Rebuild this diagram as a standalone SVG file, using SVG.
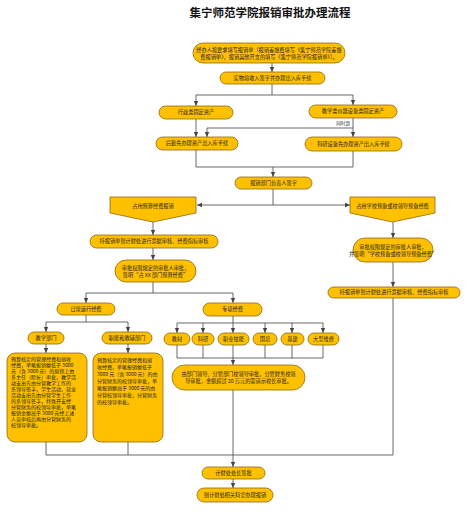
<svg xmlns="http://www.w3.org/2000/svg" width="474" height="514" viewBox="0 0 474 514">
<style>
.n{fill:#FFC000;stroke:#8C6A10;stroke-width:0.8}
.t{font-family:"Noto Sans CJK SC","Liberation Sans",sans-serif;font-size:5.2px;fill:#222;text-anchor:middle}
.tl{font-family:"Noto Sans CJK SC","Liberation Sans",sans-serif;font-size:5px;fill:#222}
.c{fill:none;stroke:#444;stroke-width:0.8}
.title{font-family:"Noto Sans CJK SC",serif;font-size:11.5px;font-weight:bold;fill:#111;text-anchor:middle}
</style>
<defs>
<marker id="a" markerWidth="6" markerHeight="6" refX="5" refY="3" orient="auto" markerUnits="userSpaceOnUse">
<path d="M0,0.8 L5,3 L0,5.2 Z" fill="#444"/>
</marker>
</defs>
<rect width="474" height="514" fill="#fff"/>
<text class="title" x="270" y="17">集宁师范学院报销审批办理流程</text>

<g id="connectors">
<path class="c" d="M272,63 V72" marker-end="url(#a)"/>
<path class="c" d="M272,84 V95 M196,95 H353"/>
<path class="c" d="M196,95 V106" marker-end="url(#a)"/>
<path class="c" d="M353,95 V105" marker-end="url(#a)"/>
<path class="c" d="M353,118 V137" marker-end="url(#a)"/>
<path class="c" d="M353,128 H207 V137" marker-end="url(#a)"/>
<path class="c" d="M196,119 V137" marker-end="url(#a)"/>
<path class="c" d="M196,150 V167 H353 V151"/>
<path class="c" d="M273,167 V177" marker-end="url(#a)"/>
<path class="c" d="M273,189 V205"/>
<path class="c" d="M273,205 H197" marker-end="url(#a)"/>
<path class="c" d="M273,205 H350" marker-end="url(#a)"/>
<path class="c" d="M153,222 V235" marker-end="url(#a)"/>
<path class="c" d="M153,248 V260" marker-end="url(#a)"/>
<path class="c" d="M153,282 V293 M86,293 H233"/>
<path class="c" d="M86,293 V303" marker-end="url(#a)"/>
<path class="c" d="M233,293 V303" marker-end="url(#a)"/>
<path class="c" d="M86,315 V322 M46,322 H128"/>
<path class="c" d="M46,322 V332" marker-end="url(#a)"/>
<path class="c" d="M128,322 V332" marker-end="url(#a)"/>
<path class="c" d="M46,344 V353" marker-end="url(#a)"/>
<path class="c" d="M128,344 V353" marker-end="url(#a)"/>
<path class="c" d="M233,316 V323 M177,323 H323"/>
<path class="c" d="M177,323 V333" marker-end="url(#a)"/>
<path class="c" d="M203,323 V333" marker-end="url(#a)"/>
<path class="c" d="M233,323 V333" marker-end="url(#a)"/>
<path class="c" d="M265,323 V333" marker-end="url(#a)"/>
<path class="c" d="M292,323 V333" marker-end="url(#a)"/>
<path class="c" d="M323,323 V333" marker-end="url(#a)"/>
<path class="c" d="M177,345 V358 M203,345 V358 M233,345 V358 M265,345 V358 M292,345 V358 M323,345 V358 M177,358 H323"/>
<path class="c" d="M233,358 V365" marker-end="url(#a)"/>
<path class="c" d="M393,222 V238" marker-end="url(#a)"/>
<path class="c" d="M393,262 V287" marker-end="url(#a)"/>
<path class="c" d="M393,298 V455 H46 V442 M128,442 V455 M233,390 V455"/>
<path class="c" d="M233,455 V467" marker-end="url(#a)"/>
<path class="c" d="M233,479 V488" marker-end="url(#a)"/>
<text x="350" y="125" font-family="Noto Sans CJK SC, sans-serif" font-size="4.6" fill="#333" text-anchor="end">同时到</text>
</g>

<g id="n1"><rect class="n" x="193" y="43" width="152" height="20" rx="10"/>
<text class="t" x="269" y="51.5">经办人按要求填写报销单（报销差旅费填写《集宁师范学院差旅</text>
<text class="t" x="269" y="58.5">费报销单》，报销其他开支的填写《集宁师范学院报销单》）。</text></g>
<g id="n2"><rect class="n" x="220" y="72" width="105" height="12" rx="6"/>
<text class="t" x="272.5" y="79.8">实物验收入签字并办理出入库手续</text></g>
<g id="n3"><rect class="n" x="159" y="106" width="74" height="13" rx="6.5"/>
<text class="t" x="196" y="114.3">行政类固定资产</text></g>
<g id="n4"><rect class="n" x="309" y="105" width="88" height="13" rx="6.5"/>
<text class="t" x="353" y="113.3">教学类仪器设备类固定资产</text></g>
<g id="n5"><rect class="n" x="156" y="137" width="82" height="13" rx="6.5"/>
<text class="t" x="197" y="145.3">后勤先办理资产出入库手续</text></g>
<g id="n6"><rect class="n" x="305" y="137" width="97" height="14" rx="7"/>
<text class="t" x="353.5" y="145.8">科研设备先办理资产出入库手续</text></g>
<g id="n7"><rect class="n" x="235" y="177" width="77" height="12" rx="6"/>
<text class="t" x="273.5" y="184.8">报销部门负责人签字</text></g>
<g id="n8"><path class="n" d="M110,197 H196 V213 L153,222 L110,213 Z"/>
<text class="t" x="153" y="208">占用预算经费报销</text></g>
<g id="n9"><path class="n" d="M350,197 H435 V213 L392.5,222 L350,213 Z"/>
<text class="t" x="392.5" y="208">占用学校预备或校领导预备经费</text></g>
<g id="n10"><rect class="n" x="90" y="235" width="128" height="13" rx="6.5"/>
<text class="t" x="154" y="243.3">持报销单到计财处进行票据审核、经费指标审核</text></g>
<g id="n11"><rect class="n" x="115" y="260" width="81" height="22" rx="11"/>
<text class="t" x="155.5" y="269.5">审批权限规定的审批人审批，</text>
<text class="t" x="155.5" y="276.5">签明“占 XX 部门预算经费”</text></g>
<g id="n12"><rect class="n" x="353" y="238" width="80" height="24" rx="12"/>
<text class="t" x="393" y="248.5">审批权限规定的审批人审批，</text>
<text class="t" x="393" y="255.5" font-size="4.4">并签明“学校预备或校领导预备经费”</text></g>
<g id="n13"><rect class="n" x="328" y="287" width="132" height="11" rx="5.5"/>
<text class="t" x="394" y="294.3">持报销单到计财处进行票据审核、经费指标审核</text></g>
<g id="n14"><rect class="n" x="57" y="303" width="58" height="12" rx="6"/>
<text class="t" x="86" y="310.8">日常运行经费</text></g>
<g id="n15"><rect class="n" x="203" y="303" width="59" height="13" rx="6.5"/>
<text class="t" x="232.5" y="311.3">专项经费</text></g>
<g id="n16"><rect class="n" x="28" y="332" width="36" height="12" rx="6"/>
<text class="t" x="46" y="339.8">教学部门</text></g>
<g id="n17"><rect class="n" x="102" y="332" width="50" height="12" rx="6"/>
<text class="t" x="127" y="339.8">职能和教辅部门</text></g>
<g id="n18"><rect class="n" x="7" y="353" width="80" height="89" rx="8"/>
<text class="tl" x="11" y="361">预算核定的管理经费和创收</text>
<text class="tl" x="11" y="367">经费，单笔报销额低于 3000</text>
<text class="tl" x="11" y="373">元（含 3000 元）的原则上由</text>
<text class="tl" x="11" y="379">系主任（院长）审批，教学活</text>
<text class="tl" x="11" y="385">动支出先由分管教学工作的</text>
<text class="tl" x="11" y="391">系领导签字，学生活动、就业</text>
<text class="tl" x="11" y="397">活动支出先由分管学生工作</text>
<text class="tl" x="11" y="403">的系领导签字，特殊开支经</text>
<text class="tl" x="11" y="409">分管财务的校领导审批，单笔</text>
<text class="tl" x="11" y="415">报销金额高于 3000 元经上述</text>
<text class="tl" x="11" y="421">人员审核后再由分管财务的</text>
<text class="tl" x="11" y="427">校领导审批。</text></g>
<g id="n19"><rect class="n" x="93" y="353" width="70" height="89" rx="8"/>
<text class="tl" x="97" y="362">预算核定的管理经费和创</text>
<text class="tl" x="97" y="369">收经费，单笔报销额低于</text>
<text class="tl" x="97" y="376">3000 元（含 3000 元）的由</text>
<text class="tl" x="97" y="383">分管财务的校领导审批，单</text>
<text class="tl" x="97" y="390">笔报销额高于 3000 元的由</text>
<text class="tl" x="97" y="397">分管校领导审批，分管财务</text>
<text class="tl" x="97" y="404">的校领导审批。</text></g>
<g id="s1"><rect class="n" x="164" y="333" width="26" height="12" rx="6"/><text class="t" x="177" y="340.8">教材</text></g>
<g id="s2"><rect class="n" x="192" y="333" width="22" height="12" rx="6"/><text class="t" x="203" y="340.8">科研</text></g>
<g id="s3"><rect class="n" x="218" y="333" width="31" height="12" rx="6"/><text class="t" x="233.5" y="340.8">职业技能</text></g>
<g id="s4"><rect class="n" x="253" y="333" width="24" height="12" rx="6"/><text class="t" x="265" y="340.8">国培</text></g>
<g id="s5"><rect class="n" x="281" y="333" width="23" height="12" rx="6"/><text class="t" x="292.5" y="340.8">基建</text></g>
<g id="s6"><rect class="n" x="308" y="333" width="31" height="12" rx="6"/><text class="t" x="323.5" y="340.8">大型维修</text></g>
<g id="n21"><rect class="n" x="172" y="365" width="133" height="25" rx="12.5"/>
<text class="t" x="238.5" y="376">由部门领导、分管部门校领导审批，分管财务校领</text>
<text class="t" x="238.5" y="383">导审批，金额超过 20 万元的需请示校长审批。</text></g>
<g id="n22"><rect class="n" x="202" y="467" width="63" height="12" rx="6"/>
<text class="t" x="233.5" y="474.8">计财处处长签批</text></g>
<g id="n23"><rect class="n" x="197" y="488" width="76" height="14" rx="7"/>
<text class="t" x="235" y="496.8">到计财处相关科室办理报销</text></g>
</svg>
